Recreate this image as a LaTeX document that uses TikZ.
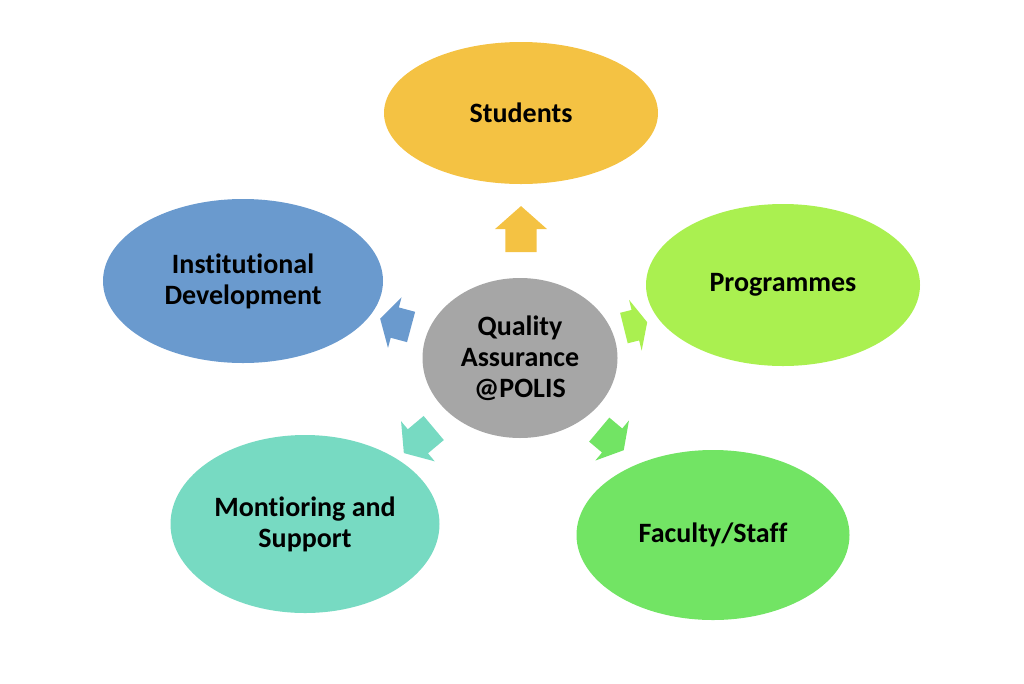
\documentclass[tikz,border=0pt]{standalone}
\usepackage{fontspec}
\setmainfont{Carlito}[Ligatures = NoCommon]
\usepackage{tikz}
\usetikzlibrary{shapes.geometric}
\usetikzlibrary{shapes.arrows}
\definecolor{studcol}{RGB}{244,194,67}
\definecolor{progcol}{RGB}{170,240,80}
\definecolor{faccol}{RGB}{114,228,100}
\definecolor{moncol}{RGB}{119,218,194}
\definecolor{instcol}{RGB}{106,154,206}
\definecolor{qacol}{RGB}{166,166,166}
\tikzset{bubble/.style = {ellipse, inner sep = 0, align = center, font = \fontsize{28}{31}\selectfont\bfseries}}
\tikzset{blockarrow/.style = {single arrow, inner xsep = 0, inner ysep = 15.5, single arrow head extend = 10.5, single arrow head indent = 0}}

\begin{document}
\begin{tikzpicture}[x = 1pt, y = -1pt]
    \useasboundingbox (0, 0) rectangle (1024, 683);

    \node [bubble, fill = qacol, minimum width = 195, minimum height = 160] (qa) at (520, 358) {Quality\\Assurance\\@POLIS};
    \node [bubble, fill = studcol, minimum width = 274, minimum height = 142] (students) at (521, 113) {Students};
    \node [bubble, fill = progcol, minimum width = 274, minimum height = 162] (programmes) at (783, 285) {Programmes};
    \node [bubble, fill = faccol, minimum width = 273, minimum height = 170] (faculty) at (713, 535) {Faculty/Staff};
    \node [bubble, fill = moncol, minimum width = 269, minimum height = 178] (monitoring) at (305, 524) {Montioring and\\Support};
    \node [bubble, fill = instcol, minimum width = 280, minimum height = 164] (institutional) at (243, 281) {Institutional\\Development};

    \node [blockarrow, fill = studcol, minimum height = 46, rotate = 90, single arrow tip angle = 97] (arrS) at (521, 236) {};
    \node [blockarrow, fill = progcol, minimum height = 24, rotate = 14, single arrow tip angle = 130] (arrP) at (632, 326) {};
    \node [blockarrow, fill = faccol, minimum height = 32, rotate = -40, single arrow tip angle = 120] (arrF) at (608, 437) {};
    \node [blockarrow, fill = moncol, minimum height = 39, rotate = -140, single arrow tip angle = 110] (arrM) at (423, 437) {};
    \node [blockarrow, fill = instcol, minimum height = 32, rotate = 165, single arrow tip angle = 120] (arrI) at (400, 324) {};
\end{tikzpicture}
\end{document}
